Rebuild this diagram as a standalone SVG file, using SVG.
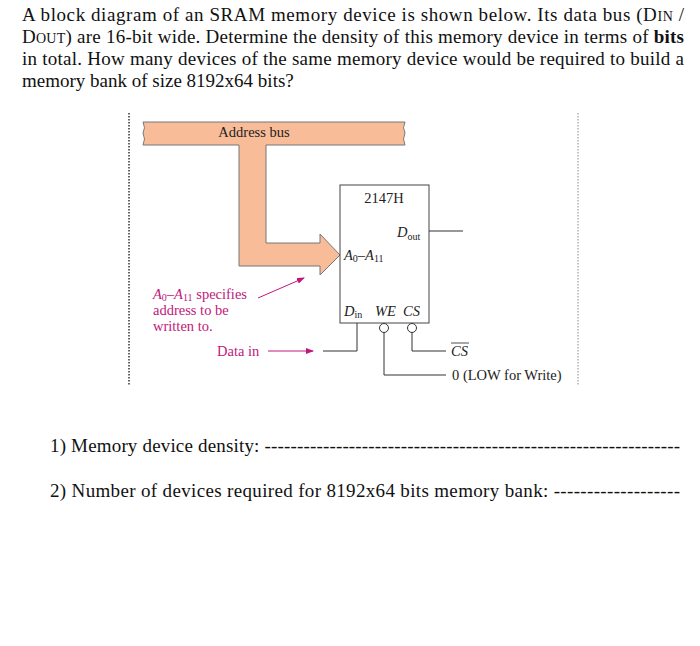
<svg xmlns="http://www.w3.org/2000/svg" width="700" height="646" viewBox="0 0 700 646">
<style>
.q{font-family:"Liberation Serif",serif;font-size:19px;fill:#111}
.d{font-family:"Liberation Serif",serif;font-size:14.5px;fill:#222}
.m{font-family:"Liberation Serif",serif;font-size:14.5px;fill:#c0187a}
.w{stroke:#333;stroke-width:1;fill:none}
</style>
<defs><marker id="ah" markerWidth="8" markerHeight="6" refX="7" refY="3" orient="auto"><path d="M0,0L8,3L0,6z" fill="#c0187a"/></marker></defs>
<rect width="700" height="646" fill="#fff"/>
<g id="question">
<text class="q" x="22" y="21" textLength="662" lengthAdjust="spacing">A block diagram of an SRAM memory device is shown below. Its data bus (D<tspan font-size="14">IN</tspan> /</text>
<text class="q" x="22" y="43" textLength="662" lengthAdjust="spacing">D<tspan font-size="14">OUT</tspan>) are 16-bit wide. Determine the density of this memory device in terms of <tspan font-weight="bold">bits</tspan></text>
<text class="q" x="22" y="65" textLength="662" lengthAdjust="spacing">in total. How many devices of the same memory device would be required to build a</text>
<text class="q" x="22" y="87">memory bank of size 8192x64 bits?</text>
<text class="q" x="50" y="452" textLength="630" lengthAdjust="spacing">1) Memory device density: ----------------------------------------------------------------</text>
<text class="q" x="50" y="497" textLength="630" lengthAdjust="spacing">2) Number of devices required for 8192x64 bits memory bank: -------------------</text>
</g>
<g id="frame">
<line x1="129" y1="113" x2="129" y2="385" stroke="#333" stroke-width="1.5" stroke-dasharray="1.5 1.5"/>
<line x1="578" y1="113" x2="578" y2="385" stroke="#888" stroke-width="1" stroke-dasharray="1.5 1.5"/>
</g>
<g id="bus">
<path d="M143,122 L405,122 Q402,128 405,133 Q402,139 405,145 L266,145 L266,243 L320,243 L320,234 L340,255 L320,275 L320,266 L239,266 L239,145 L143,145 Q146,139 143,133 Q146,128 143,122 Z" fill="#f8bc98" stroke="#777" stroke-width="1"/>
<text class="d" x="254" y="137" text-anchor="middle">Address bus</text>
</g>
<g id="chip">
<rect x="340" y="185" width="89" height="138" fill="#fff" stroke="#444" stroke-width="1"/>
<text class="d" x="384" y="203" text-anchor="middle">2147H</text>
<text class="d" x="397" y="237" font-style="italic">D<tspan font-size="10" dy="3" font-style="normal">out</tspan></text>
<text class="d" x="344" y="260" font-style="italic">A<tspan font-size="10" dy="2" font-style="normal">0</tspan><tspan dy="-2">–A</tspan><tspan font-size="10" dy="2" font-style="normal">11</tspan></text>
<text class="d" x="344" y="316" font-style="italic">D<tspan font-size="10" dy="2" font-style="normal">in</tspan></text>
<text class="d" x="375" y="316" font-style="italic">WE</text>
<text class="d" x="403" y="316" font-style="italic">CS</text>
<circle cx="384" cy="328" r="4.5" fill="#fff" stroke="#333"/>
<circle cx="412" cy="328" r="4.5" fill="#fff" stroke="#333"/>
</g>
<g id="connectors">
<path class="w" d="M429,231 H463"/>
<path class="w" d="M357,323 V351 H323"/>
<path class="w" d="M412,332.5 V351 H446"/>
<path class="w" d="M384,332.5 V375 H446"/>
<line x1="268" y1="351" x2="313" y2="351" stroke="#c0187a" stroke-width="1" marker-end="url(#ah)"/>
<line x1="258" y1="298" x2="304" y2="278" stroke="#c0187a" stroke-width="1" marker-end="url(#ah)"/>
</g>
<g id="labels">
<text class="d" x="451" y="356" font-style="italic">CS</text>
<line x1="451" y1="343" x2="469" y2="343" stroke="#222" stroke-width="0.8"/>
<text class="d" x="452" y="380">0 (LOW for Write)</text>
<text class="m" x="217" y="356">Data in</text>
<text class="m" x="153" y="299"><tspan font-style="italic">A</tspan><tspan font-size="10" dy="2">0</tspan><tspan dy="-2" font-style="italic">–A</tspan><tspan font-size="10" dy="2">11</tspan><tspan dy="-2"> specifies</tspan></text>
<text class="m" x="153" y="315">address to be</text>
<text class="m" x="153" y="331">written to.</text>
</g>
</svg>
